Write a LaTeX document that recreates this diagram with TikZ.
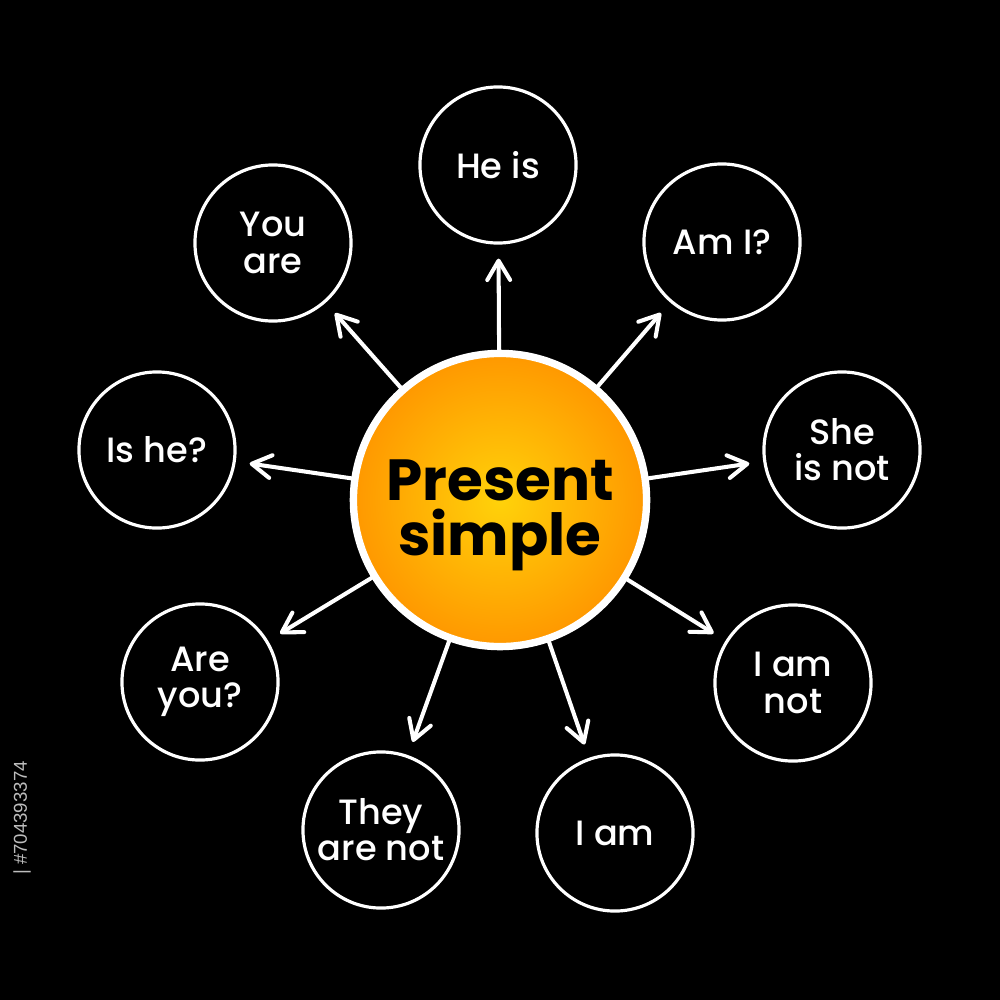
\documentclass[tikz,border=0pt]{standalone}
\usepackage{fontspec}
\setmainfont{Poppins}
\newfontfamily\medfont{Poppins Medium}
\newfontfamily\idfont{Liberation Sans}
\usetikzlibrary{arrows.meta}
\definecolor{ringorange}{HTML}{FF9800}
\definecolor{coreyellow}{HTML}{FFD20A}
\definecolor{idgray}{HTML}{BDBDBD}
\begin{document}
\begin{tikzpicture}[x=0.01cm,y=-0.01cm,
  sat/.style={circle, draw=white, line width=0.9pt, minimum size=1.56cm, inner sep=0pt,
    text=white, align=center, font=\medfont\fontsize{10}{10.3}\selectfont},
  core/.style={circle, draw=white, line width=2.1pt, minimum size=2.93cm, inner sep=0pt,
    inner color=coreyellow, outer color=ringorange},
  coretext/.style={text=black, align=center, inner sep=0pt,
    font=\bfseries\fontsize{16.5}{15.6}\selectfont},
  arr/.style={draw=white, line width=1.15pt, line cap=round,
    -{Straight Barb[length=5.5pt,width=6.5pt,line cap=round,line join=round]},
    shorten >=0.14cm}]
\fill[black] (0,0) rectangle (1000,1000);
\useasboundingbox (0,0) rectangle (1000,1000);

\node[core] (c) at (500,500) {};
\node[coretext] (ctext) at (500,515) {Present\\simple};

\node[sat] (heis) at (498,165) {He is};
\node[sat] (ami) at (722,242) {Am I?};
\node[sat] (sheisnot) at (842,450) {She\\is not};
\node[sat] (iamnot) at (793,683) {I am\\not};
\node[sat] (iam) at (615,833) {I am};
\node[sat] (theyarenot) at (381,830) {They\\are not};
\node[sat] (areyou) at (200,682) {Are\\you?};
\node[sat] (ishe) at (157,450) {Is he?};
\node[sat] (youare) at (273,243) {You\\are};

\foreach \n in {heis,ami,sheisnot,iamnot,iam,theyarenot,areyou,ishe,youare}
  \draw[arr] (c) -- (\n);

\node[rotate=90, text=idgray, font=\idfont\fontsize{5.3}{6}\selectfont, inner sep=0pt]
  (stockid) at (22,818) {| \#704393374};
\end{tikzpicture}
\end{document}
